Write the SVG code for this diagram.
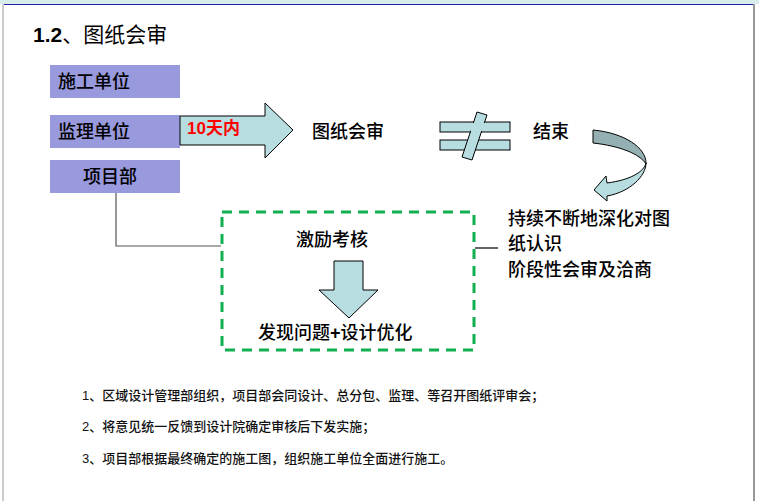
<svg xmlns="http://www.w3.org/2000/svg" width="759" height="501" viewBox="0 0 759 501">
<style>
.box{fill:#9999dd}
.t{font-family:"Noto Sans CJK SC",sans-serif;font-size:18px;font-weight:500;fill:#000}
.s{fill:#b8dde0;stroke:#000;stroke-width:1}
.l{font-family:"Liberation Sans","Noto Sans CJK SC",sans-serif;font-size:13px;font-weight:500;fill:#111}
</style>
<rect width="759" height="501" fill="#fff"/>
<rect x="0" y="0" width="759" height="4" fill="#d8ecec"/>
<line x1="4" y1="4.5" x2="755" y2="4.5" stroke="#2020a0" stroke-width="1"/>
<line x1="754" y1="4" x2="754" y2="501" stroke="#999" stroke-width="2"/>
<line x1="3" y1="4" x2="3" y2="501" stroke="#ccc" stroke-width="2"/>
<text x="33" y="42" font-family="Liberation Sans,Noto Sans CJK SC,sans-serif" font-size="21" font-weight="bold">1.2<tspan font-weight="normal">、图纸会审</tspan></text>
<g id="n1"><rect class="box" x="50" y="65" width="130" height="33"/><text class="t" x="58" y="88">施工单位</text></g>
<g id="n2"><rect class="box" x="50" y="115" width="130" height="33"/><text class="t" x="58" y="138">监理单位</text></g>
<g id="n3"><rect class="box" x="50" y="160" width="130" height="33"/><text class="t" x="83" y="183">项目部</text></g>
<g id="arrow1"><polygon class="s" points="180,116 265,116 265,103 293,130 265,158 265,145 180,145"/><text x="187" y="134" font-family="Liberation Sans,Noto Sans CJK SC,sans-serif" font-size="17" font-weight="bold" fill="#ff0000">10天内</text></g>
<g id="n4"><text class="t" x="312" y="138">图纸会审</text></g>
<g id="neq"><rect class="s" x="440" y="122" width="70" height="10"/><rect class="s" x="440" y="140" width="70" height="10"/><polygon class="s" points="477,112 487,115 472,160 462,157"/><polygon fill="#b8dde0" points="472,123 488,123 484,131 470,131"/></g>
<g id="n5"><text class="t" x="533" y="138">结束</text></g>
<g id="curve">
<path d="M646,163 C646,176 630,192 607,196 L607,201 L594,190 L606,176 L607,183 C630,180 644,172 646,163 Z" class="s"/>
<path d="M593,130 L593,143 C620,146 640,154 646,164 L646,163 C646,148 625,133 593,130 Z" fill="#94b0b2" stroke="#000" stroke-width="1"/></g>
<g id="n6"><text class="t" x="508" y="225">持续不断地深化对图</text><text class="t" x="508" y="250">纸认识</text><text class="t" x="508" y="276">阶段性会审及洽商</text></g>
<g id="n7"><rect x="222" y="212" width="252" height="138" fill="none" stroke="#10b050" stroke-width="3" stroke-dasharray="10,7"/>
<text class="t" x="296" y="246">激励考核</text>
<polygon class="s" points="334,261 363,261 363,290 378,290 349,318 319,290 334,290"/>
<text class="t" x="258" y="339">发现问题<tspan font-family="Liberation Sans,sans-serif" font-weight="bold">+</tspan>设计优化</text></g>
<g id="connectors" fill="none" stroke-width="1.2"><polyline points="116,193 116,246 221,246" stroke="#555"/><line x1="475" y1="248" x2="498" y2="248" stroke="#000"/></g>
<g id="notes"><text class="l" x="82" y="400">1、区域设计管理部组织，项目部会同设计、总分包、监理、等召开图纸评审会；</text>
<text class="l" x="82" y="431">2、将意见统一反馈到设计院确定审核后下发实施；</text>
<text class="l" x="82" y="463">3、项目部根据最终确定的施工图，组织施工单位全面进行施工。</text></g>
</svg>
